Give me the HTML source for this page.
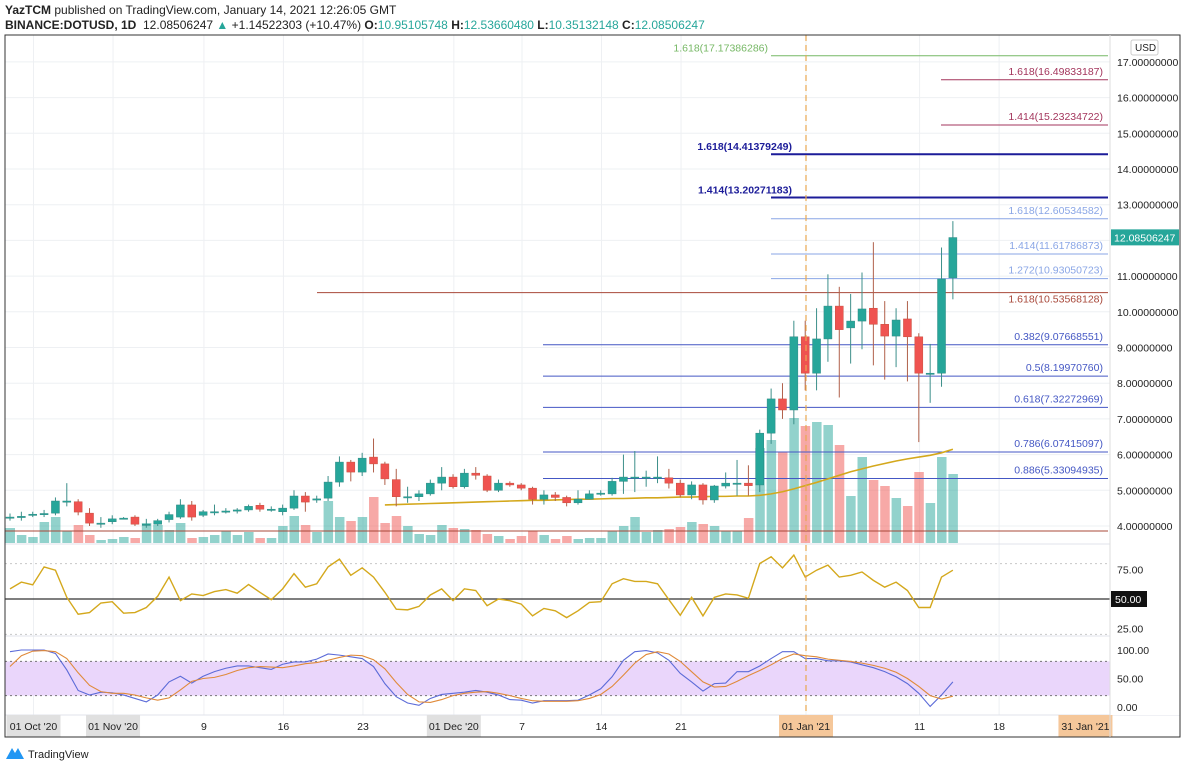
<!DOCTYPE html>
<html><head><meta charset="utf-8">
<style>
html,body{margin:0;padding:0;background:#fff;}
body{width:1185px;height:768px;overflow:hidden;font-family:"Liberation Sans",sans-serif;}
#hdr1{position:absolute;left:5px;top:3px;font-size:12px;color:#222;}
#hdr2{position:absolute;left:5px;top:18px;font-size:12px;color:#222;}
#hdr2 .v{color:#26a69a;}
svg{position:absolute;left:0;top:0;}
</style></head>
<body>
<div id="hdr1"><b>YazTCM</b> published on TradingView.com, January 14, 2021 12:26:05 GMT</div>
<div id="hdr2"><b>BINANCE:DOTUSD, 1D</b>&nbsp; 12.08506247 <span style="color:#26a69a">▲</span> +1.14522303 (+10.47%) <b>O:</b><span class="v">10.95105748</span> <b>H:</b><span class="v">12.53660480</span> <b>L:</b><span class="v">10.35132148</span> <b>C:</b><span class="v">12.08506247</span></div>
<svg id="chart" width="1185" height="768"></svg>
<script>
const opens=[4.25,4.25,4.30,4.33,4.36,4.70,4.68,4.36,4.08,4.12,4.22,4.25,4.05,4.05,4.18,4.25,4.59,4.30,4.40,4.42,4.45,4.45,4.58,4.47,4.40,4.50,4.84,4.76,4.78,5.23,5.79,5.51,5.93,5.74,5.30,4.82,4.82,4.90,5.20,5.37,5.10,5.48,5.40,5.00,5.20,5.15,5.06,4.75,4.87,4.80,4.65,4.75,4.92,4.90,5.25,5.37,5.37,5.37,5.35,5.20,4.87,5.15,4.73,5.12,5.20,5.20,5.15,6.60,7.56,7.25,9.30,8.28,9.24,10.16,9.55,9.74,10.10,9.65,9.32,9.80,9.30,8.28,8.28,10.95];
const closes=[4.25,4.27,4.33,4.35,4.70,4.70,4.39,4.08,4.08,4.20,4.22,4.05,4.05,4.15,4.32,4.59,4.25,4.40,4.40,4.42,4.45,4.55,4.47,4.47,4.50,4.84,4.67,4.76,5.23,5.79,5.51,5.90,5.74,5.32,4.82,4.82,4.90,5.20,5.37,5.10,5.48,5.42,5.00,5.20,5.15,5.06,4.75,4.87,4.80,4.65,4.75,4.90,4.92,5.25,5.37,5.37,5.37,5.37,5.20,4.87,5.15,4.73,5.12,5.20,5.20,5.13,6.60,7.56,7.25,9.30,8.28,9.24,10.16,9.50,9.74,10.08,9.65,9.32,9.77,9.30,8.28,8.28,10.92,12.08];
const highs=[4.35,4.4,4.4,4.45,4.8,5.2,4.75,4.5,4.25,4.3,4.25,4.3,4.2,4.2,4.4,4.75,4.7,4.45,4.6,4.5,4.5,4.6,4.65,4.55,4.6,5.0,4.95,4.85,5.4,5.95,5.85,6.05,6.45,5.8,5.6,5.1,5.0,5.3,5.65,5.45,5.6,5.65,5.45,5.3,5.25,5.2,5.1,5.0,4.95,4.85,5.0,5.0,5.0,5.35,6.0,6.1,5.55,5.95,5.6,5.3,5.25,5.2,5.15,5.5,5.85,5.7,6.7,7.85,8.0,9.75,9.75,10.1,11.05,10.7,10.5,11.1,11.95,10.3,10.1,10.3,9.4,9.1,11.8,12.54];
const lows=[4.15,4.15,4.25,4.25,4.3,4.55,4.3,4.0,3.95,4.05,4.2,4.0,3.95,4.0,4.1,4.2,4.15,4.25,4.3,4.35,4.35,4.4,4.4,4.4,4.3,4.45,4.4,4.65,4.7,5.1,5.25,5.4,5.5,5.15,4.55,4.65,4.7,4.85,5.0,5.05,5.05,5.3,4.95,4.95,5.1,5.0,4.6,4.6,4.7,4.55,4.6,4.75,4.85,4.85,4.9,4.95,5.1,5.2,5.05,4.8,4.75,4.6,4.65,5.05,4.85,4.85,4.95,6.3,7.0,6.85,7.8,7.8,8.6,7.6,8.55,8.95,8.5,8.1,8.45,8.05,6.35,7.45,7.9,10.35];
const volumes=[15,8,6,21,26,12,18,8,3,4,6,5,20,18,13,20,5,6,8,12,8,11,5,5,17,27,18,11,42,26,22,26,46,20,27,17,9,8,18,15,14,13,9,7,4,7,12,8,4,7,4,5,5,12,17,26,11,13,14,16,21,19,17,12,12,25,95,103,91,125,117,121,118,98,47,86,63,57,45,37,71,40,86,69];
const maValues=[4.59,4.60,4.61,4.62,4.63,4.64,4.65,4.66,4.67,4.68,4.69,4.70,4.71,4.72,4.72,4.73,4.74,4.75,4.75,4.76,4.77,4.77,4.78,4.79,4.79,4.80,4.81,4.81,4.82,4.83,4.83,4.84,4.84,4.86,4.90,4.96,5.04,5.13,5.22,5.32,5.42,5.52,5.60,5.68,5.75,5.82,5.88,5.93,5.98,6.05,6.15];
const maStart=33;
const rsiValues=[58.6,64.3,62,77.2,74.4,51.4,37.1,38.5,46.6,47.7,38,38.5,42.8,52.3,68.6,48.6,54.3,52.9,56.3,58,54.9,62.3,55.7,49.4,58.6,71.5,60,62.9,77.2,83.8,70.1,76.4,68.6,55.7,41.4,40.8,43.7,53.4,58.6,48.6,58.6,57.2,44.3,50,48.6,45.7,35.7,42,40,34.2,40,47.1,47.7,62.9,67.2,64.9,64.9,62.9,49.4,36.2,51.4,35.7,51.4,54.3,53.4,50.6,80.1,85.8,76.4,87.2,68.6,74.4,78.7,68.6,70.1,72.9,65.8,60,64.3,57.2,42.8,42.8,68.6,74.4];
const stochK=[97,100,100,100,94,65,29,21,26,25,21,15,9,21,44,54,42,54,62,68,72,72,69,66,75,79,79,84,93,91,88,85,71,41,18,7,3,15,22,24,26,29,26,21,13,12,7,11,11,11,12,21,32,53,82,97,99,95,82,59,44,28,41,42,62,62,72,85,97,97,85,85,81,81,79,74,69,62,53,41,24,1,21,44];
const stochD=[71,90,98,99,97,85,60,38,27,24,24,21,16,12,16,30,45,50,52,57,64,69,71,70,69,72,76,78,82,87,91,90,83,67,43,22,9,8,13,20,24,26,27,24,20,15,11,10,10,10,11,15,22,36,56,77,92,97,93,80,62,44,35,36,45,55,64,74,85,93,90,88,84,82,80,77,73,68,61,50,36,20,14,19];
const priceTicks=[17,16,15,14,13,12,11,10,9,8,7,6,5,4];
const fibLevels=[17.17386286,16.49833187,15.23234722,14.41379249,13.20271183,12.60534582,11.61786873,10.93050723,10.53568128,9.07668551,8.19970760,7.32272969,6.07415097,5.33094935];
const fibRatios=["1.618","1.618","1.414","1.618","1.414","1.618","1.414","1.272","1.618","0.382","0.5","0.618","0.786","0.886"];
const dateLabels=["01 Oct '20","01 Nov '20","9","16","23","01 Dec '20","7","14","21","01 Jan '21","11","18","31 Jan '21"];
const dateOffsets=[-68,-61,-53,-46,-39,-31,-25,-18,-11,0,10,17,24.6];

const S=document.getElementById('chart');
const NS='http://www.w3.org/2000/svg';
function mk(tag,at,parent){const e=document.createElementNS(NS,tag);for(const k in at)e.setAttribute(k,at[k]);(parent||S).appendChild(e);return e;}
const L=5,R=1110,T=35,PB=543;
const xIdx=i=>10+i*11.36;
const xDay=d=>806+d*11.36;
const yP=p=>526-(p-4)*35.7;
const yV=v=>543-v;
const yR=v=>599-(v-50)*1.18;
const yS=v=>707-v*0.57;
const fmt=v=>v.toFixed(8);

dateOffsets.forEach((d,i)=>{if(i>=12)return;const g=mk('line',{x1:xDay(d),x2:xDay(d),y1:T,y2:715,stroke:'#eef0f3','stroke-width':1});

});
priceTicks.forEach(p=>{const g=mk('line',{x1:L,x2:R,y1:yP(p),y2:yP(p),stroke:'#eef0f3'});

});

volumes.forEach((v,i)=>{const up=closes[i]>=opens[i];const r=mk('rect',{x:xIdx(i)-4.5,y:yV(v),width:9.5,height:v,fill:up?'rgba(38,166,154,0.5)':'rgba(239,83,80,0.5)'});

});

const fibStyle=[
{x1:771,c:'#77b866',w:1,lx:768,ly:-4,anchor:'end'},
{x1:941,c:'#a3355c',w:1,lx:1103,ly:-5,anchor:'end'},
{x1:941,c:'#a3355c',w:1,lx:1103,ly:-5,anchor:'end'},
{x1:771,c:'#1c1c99',w:2,lx:792,ly:-4,anchor:'end',bold:1},
{x1:771,c:'#1c1c99',w:2,lx:792,ly:-4,anchor:'end',bold:1},
{x1:771,c:'#8aa6e6',w:1,lx:1103,ly:-5,anchor:'end'},
{x1:771,c:'#8aa6e6',w:1,lx:1103,ly:-5,anchor:'end'},
{x1:771,c:'#8aa6e6',w:1,lx:1103,ly:-5,anchor:'end'},
{x1:317,c:'#a8483a',w:1,lx:1103,ly:10,anchor:'end'},
{x1:543,c:'#4457c4',w:1,lx:1103,ly:-5,anchor:'end'},
{x1:543,c:'#4457c4',w:1,lx:1103,ly:-5,anchor:'end'},
{x1:543,c:'#4457c4',w:1,lx:1103,ly:-5,anchor:'end'},
{x1:543,c:'#4457c4',w:1,lx:1103,ly:-5,anchor:'end'},
{x1:543,c:'#4457c4',w:1,lx:1103,ly:-5,anchor:'end'}];
fibLevels.forEach((lv,i)=>{const s=fibStyle[i];const y=yP(lv);
const ln=mk('line',{x1:s.x1,x2:1108,y1:y,y2:y,stroke:s.c,'stroke-width':s.w});


const t=mk('text',{x:s.lx,y:y+s.ly,'text-anchor':s.anchor,'font-size':10.5,fill:s.c,'font-weight':s.bold?'bold':'normal'});
t.textContent=fibRatios[i]+'('+fmt(lv)+')';

});
const bl=mk('line',{x1:L,x2:1108,y1:yP(3.86),y2:yP(3.86),stroke:'#a8483a'});



let pts=maValues.map((v,j)=>xIdx(maStart+j)+','+yP(v)).join(' ');
const ma=mk('polyline',{points:pts,fill:'none',stroke:'#d4a81c','stroke-width':1.6});



opens.forEach((o,i)=>{const c=closes[i];const up=c>=o;const col=up?'#26a69a':'#ef5350';const x=xIdx(i);
const w=mk('line',{x1:x,x2:x,y1:yP(highs[i]),y2:yP(lows[i]),stroke:up?'#3c8f8a':'#b0604a','stroke-width':1});


const top=yP(Math.max(o,c)),h=Math.max(1.2,Math.abs(yP(o)-yP(c)));
const b=mk('rect',{x:x-4,y:top,width:8,height:h,fill:col,stroke:up?'#2e8a84':'#c9503f','stroke-width':0.5});

});

[[544],[636],[715]].forEach(a=>{const l=mk('line',{x1:L,x2:1180,y1:a[0],y2:a[0],stroke:'#e0e3eb'});

});

[80,20].forEach(v=>{const l=mk('line',{x1:L,x2:R,y1:yR(v),y2:yR(v),stroke:'#c8c8c8','stroke-dasharray':'2,3'});

});
const mid=mk('line',{x1:L,x2:R,y1:yR(50),y2:yR(50),stroke:'#333','stroke-width':1.2});


const rsi=mk('polyline',{points:rsiValues.map((v,i)=>xIdx(i)+','+yR(v)).join(' '),fill:'none',stroke:'#d4a81c','stroke-width':1.4});



const band=mk('rect',{x:L,y:yS(80),width:R-L,height:yS(20)-yS(80),fill:'#ead6fb'});


[80,20].forEach(v=>{const l=mk('line',{x1:L,x2:R,y1:yS(v),y2:yS(v),stroke:'#777','stroke-dasharray':'2,3'});

});
const sk=mk('polyline',{points:stochK.map((v,i)=>xIdx(i)+','+yS(v)).join(' '),fill:'none',stroke:'#5c6bd8','stroke-width':1.1});


const sd=mk('polyline',{points:stochD.map((v,i)=>xIdx(i)+','+yS(v)).join(' '),fill:'none',stroke:'#e08a3a','stroke-width':1.1});



const jl=mk('line',{x1:xDay(0),x2:xDay(0),y1:T,y2:715,stroke:'#e8a850','stroke-dasharray':'6,4','stroke-width':1.2});



const pa=mk('rect',{x:R,y:T,width:70,height:680,fill:'#fff'});


priceTicks.forEach(p=>{const t=mk('text',{x:1117,y:yP(p)+4,'font-size':10.5,fill:'#222'});t.textContent=fmt(p);

});
const cur=mk('rect',{x:1111,y:yP(12.085)-8,width:68,height:16,fill:'#26a69a'});


const ct=mk('text',{x:1114,y:yP(12.085)+4,'font-size':10.5,fill:'#fff'});ct.textContent='12.08506247';


const ub=mk('rect',{x:1131,y:40,width:27,height:15,fill:'#fff',stroke:'#ccc',rx:2});


const ut=mk('text',{x:1135,y:51,'font-size':10,fill:'#222'});ut.textContent='USD';


[75,25].forEach(v=>{const t=mk('text',{x:1117,y:yR(v)+4,'font-size':10.5,fill:'#222'});t.textContent=v.toFixed(2);

});
const rb=mk('rect',{x:1111,y:yR(50)-8,width:36,height:16,fill:'#111'});


const rt=mk('text',{x:1115,y:yR(50)+4,'font-size':10.5,fill:'#fff'});rt.textContent='50.00';


[100,50,0].forEach(v=>{const t=mk('text',{x:1117,y:yS(v)+4,'font-size':10.5,fill:'#222'});t.textContent=v.toFixed(2);

});

dateLabels.forEach((s,i)=>{const x=xDay(dateOffsets[i]);const long=s.length>3;
if(long){const bg=mk('rect',{x:x-27,y:715,width:54,height:22,fill:(i===9||i===12)?'#f5c79a':'#e0e0e0'});

}
const t=mk('text',{x:x,y:730,'font-size':10.5,'text-anchor':'middle',fill:'#222'});t.textContent=s;

});

const fr=mk('rect',{x:L,y:T,width:1175,height:702,fill:'none',stroke:'#333','stroke-width':1});


const pl=mk('line',{x1:R,x2:R,y1:T,y2:737,stroke:'#ddd'});



const lg=mk('path',{d:'M6 759 L12 748 L15 753 L18 748 L24 759 Z',fill:'#2196f3'});


const lt=mk('text',{x:28,y:758,'font-size':11,fill:'#222'});lt.textContent='TradingView';


</script>
</body></html>
